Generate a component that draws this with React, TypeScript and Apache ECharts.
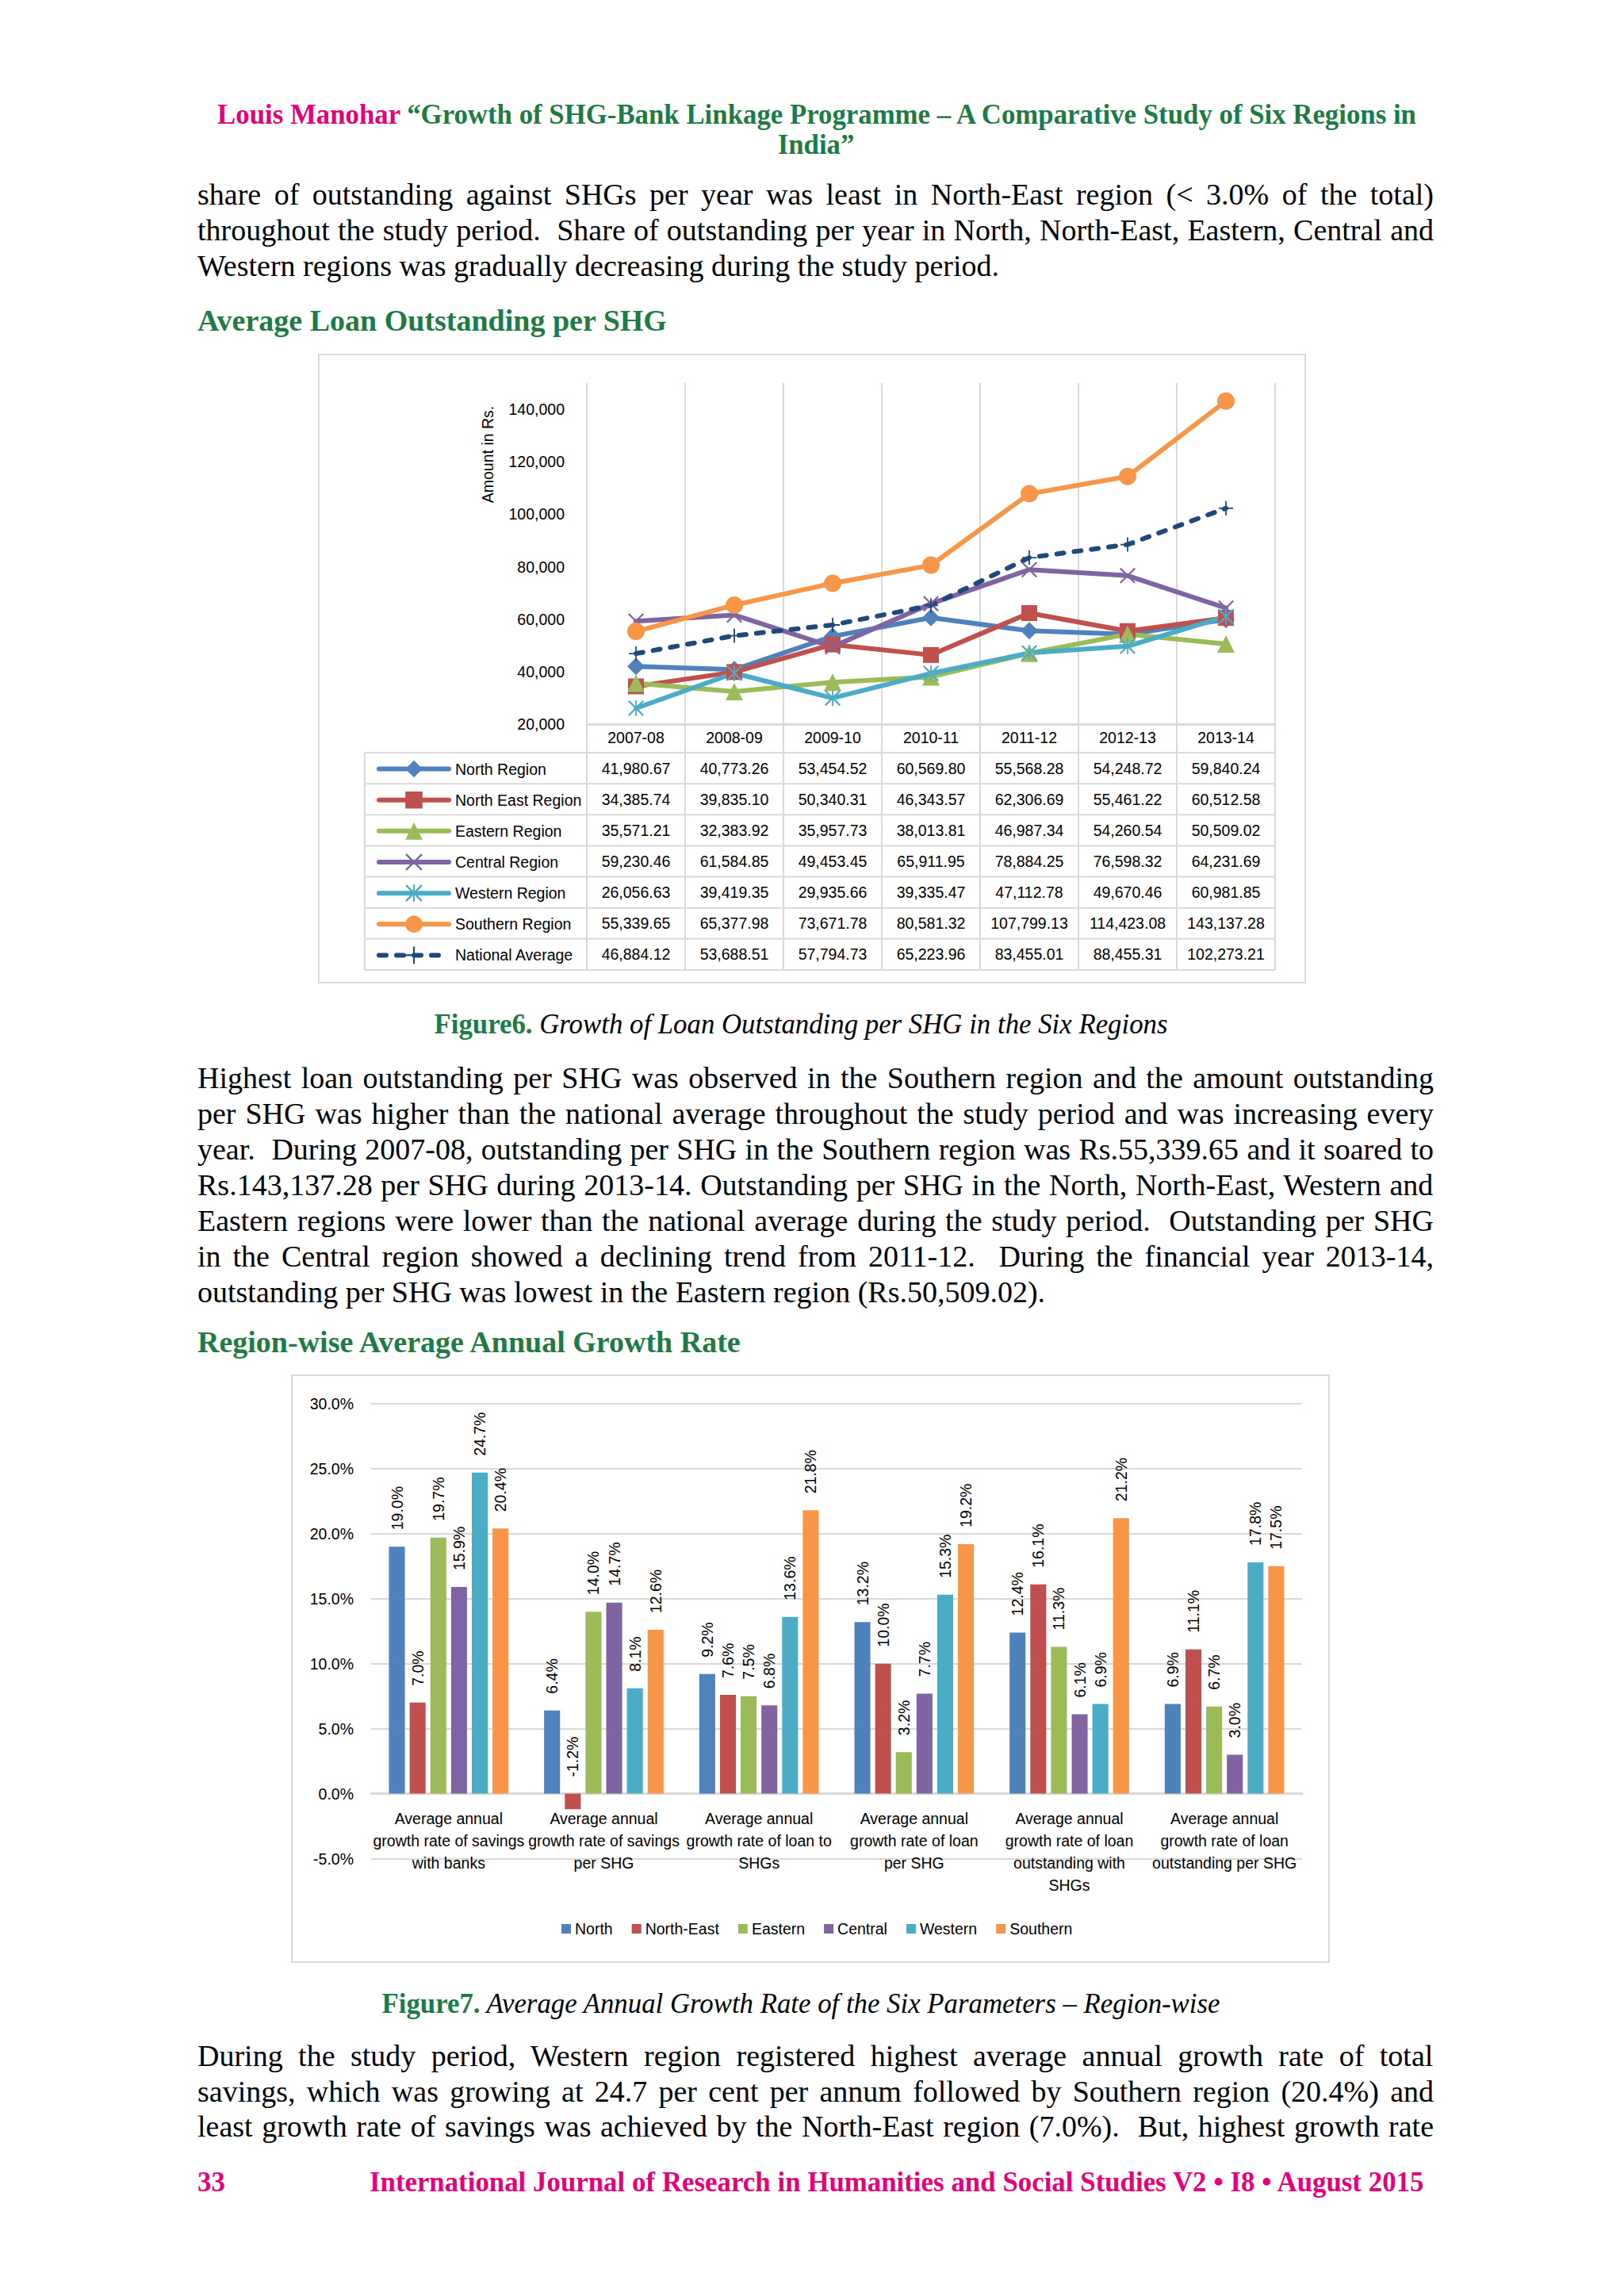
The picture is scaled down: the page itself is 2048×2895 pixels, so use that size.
import React, { useEffect, useRef } from 'react';
import * as echarts from 'echarts';

// ---------------- Data: Figure 6 ----------------
const years = ['2007-08', '2008-09', '2009-10', '2010-11', '2011-12', '2012-13', '2013-14'];
const northRegion = [41980.67, 40773.26, 53454.52, 60569.8, 55568.28, 54248.72, 59840.24];
const northEastRegion = [34385.74, 39835.1, 50340.31, 46343.57, 62306.69, 55461.22, 60512.58];
const easternRegion = [35571.21, 32383.92, 35957.73, 38013.81, 46987.34, 54260.54, 50509.02];
const centralRegion = [59230.46, 61584.85, 49453.45, 65911.95, 78884.25, 76598.32, 64231.69];
const westernRegion = [26056.63, 39419.35, 29935.66, 39335.47, 47112.78, 49670.46, 60981.85];
const southernRegion = [55339.65, 65377.98, 73671.78, 80581.32, 107799.13, 114423.08, 143137.28];
const nationalAverage = [46884.12, 53688.51, 57794.73, 65223.96, 83455.01, 88455.31, 102273.21];
const amountAxis = { min: 20000, max: 150000, interval: 20000 };

// ---------------- Data: Figure 7 ----------------
const parameters = [
  'Average annual\ngrowth rate of savings\nwith banks',
  'Average annual\ngrowth rate of savings\nper SHG',
  'Average annual\ngrowth rate of loan to\nSHGs',
  'Average annual\ngrowth rate of loan\nper SHG',
  'Average annual\ngrowth rate of loan\noutstanding with\nSHGs',
  'Average annual\ngrowth rate of loan\noutstanding per SHG',
];
const growthNorth = [19.0, 6.4, 9.2, 13.2, 12.4, 6.9];
const growthNorthEast = [7.0, -1.2, 7.6, 10.0, 16.1, 11.1];
const growthEastern = [19.7, 14.0, 7.5, 3.2, 11.3, 6.7];
const growthCentral = [15.9, 14.7, 6.8, 7.7, 6.1, 3.0];
const growthWestern = [24.7, 8.1, 13.6, 15.3, 6.9, 17.8];
const growthSouthern = [20.4, 12.6, 21.8, 19.2, 21.2, 17.5];
const growthAxis = { min: -5, max: 30, interval: 5 };

// ---------------- Styling ----------------
const C_BLUE = '#4F81BD';
const C_RED = '#C0504D';
const C_GREEN = '#9BBB59';
const C_PURPLE = '#8064A2';
const C_CYAN = '#4BACC6';
const C_ORANGE = '#F79646';
const C_NAVY = '#1F497D';
const GRID = '#D9D9D9';
const MAGENTA = '#E4007C';
const DGREEN = '#1E7B47';
const SERIF = "'Liberation Serif', 'Times New Roman', serif";
const TEXT_SHIFT = 4;

const X_PATH = 'path://M0,1.6 L1.6,0 L20,18.4 L18.4,20 Z M18.4,0 L20,1.6 L1.6,20 L0,18.4 Z';
const STAR_PATH = 'path://M0,1.6 L1.6,0 L20,18.4 L18.4,20 Z M18.4,0 L20,1.6 L1.6,20 L0,18.4 Z M9.1,0 L10.9,0 L10.9,20 L9.1,20 Z';
const PLUS_PATH = 'path://M9,0 L11,0 L11,9 L20,9 L20,11 L11,11 L11,20 L9,20 L9,11 L0,11 L0,9 L9,9 Z';

function hasFont(name: string) {
  const ctx = document.createElement('canvas').getContext('2d');
  if (!ctx) return false;
  const s = 'North East Region 0123456789';
  ctx.font = '40px monospace';
  const a = ctx.measureText(s).width;
  ctx.font = `40px '${name}', monospace`;
  const b = ctx.measureText(s).width;
  return Math.abs(a - b) > 0.5;
}

let measureCtx: CanvasRenderingContext2D | null = null;
function textWidth(t: string, font: string) {
  if (!measureCtx) measureCtx = document.createElement('canvas').getContext('2d');
  if (!measureCtx) return 0;
  measureCtx.font = font;
  return measureCtx.measureText(t).width;
}

function chartFont() {
  const narrow = hasFont('Liberation Sans Narrow');
  return narrow
    ? { family: "'Liberation Sans Narrow', 'Liberation Sans', Arial, sans-serif", size: 23 }
    : { family: "'Liberation Sans', Arial, sans-serif", size: 19.5 };
}

const fmt2 = (v: number) => v.toLocaleString('en-US', { minimumFractionDigits: 2, maximumFractionDigits: 2 });

function LineChart() {
  const ref = useRef<HTMLDivElement>(null);
  useEffect(() => {
    if (!ref.current) return;
    const { family, size } = chartFont();
    const chart = echarts.init(ref.current, undefined, { renderer: 'svg' });
    const defs = [
      { name: 'North Region', data: northRegion, color: C_BLUE, symbol: 'diamond', symbolSize: 22 },
      { name: 'North East Region', data: northEastRegion, color: C_RED, symbol: 'rect', symbolSize: 20 },
      { name: 'Eastern Region', data: easternRegion, color: C_GREEN, symbol: 'triangle', symbolSize: 22 },
      { name: 'Central Region', data: centralRegion, color: C_PURPLE, symbol: X_PATH, symbolSize: 20 },
      { name: 'Western Region', data: westernRegion, color: C_CYAN, symbol: STAR_PATH, symbolSize: 20 },
      { name: 'Southern Region', data: southernRegion, color: C_ORANGE, symbol: 'circle', symbolSize: 22 },
      { name: 'National Average', data: nationalAverage, color: C_NAVY, symbol: PLUS_PATH, symbolSize: 18, dashed: true },
    ];
    const tStyle = { fontFamily: family, fontSize: size, color: '#000' };
    const rowTop = 503;
    const rowH = 39.14;
    const legendItemH = 27;
    chart.setOption({
      animation: false,
      textStyle: { fontFamily: family },
      grid: { left: 339, top: 37, width: 868, height: 430 },
      xAxis: {
        type: 'category',
        data: years,
        boundaryGap: true,
        axisLine: { show: true, lineStyle: { color: GRID, width: 3 } },
        axisTick: { show: false },
        splitLine: { show: true, lineStyle: { color: GRID, width: 2 } },
        axisLabel: { ...tStyle, margin: 7, interval: 0 },
      },
      yAxis: {
        type: 'value',
        ...amountAxis,
        axisLine: { show: false },
        axisTick: { show: false },
        splitLine: { show: false },
        axisLabel: { ...tStyle, margin: 28, showMaxLabel: false, formatter: (v: number) => v.toLocaleString('en-US') },
      },
      legend: {
        orient: 'vertical',
        left: 69,
        top: rowTop + rowH / 2 - legendItemH / 2 - 4,
        itemWidth: 88,
        itemHeight: legendItemH,
        itemGap: rowH - legendItemH,
        selectedMode: false,
        lineStyle: { width: 6 },
        textStyle: { ...tStyle, lineHeight: legendItemH, padding: [0, 0, 0, 3] },
        data: defs.map((d) => d.name),
      },
      series: defs.map((d) => ({
        type: 'line',
        name: d.name,
        data: d.data,
        symbol: d.symbol,
        symbolSize: d.symbolSize,
        itemStyle: { color: d.color },
        lineStyle: { color: d.color, width: 6, type: d.dashed ? [9, 13] : 'solid', cap: 'round' },
        emphasis: { disabled: true },
      })),
    });

    const cx = years.map((_, i) => chart.convertToPixel({ xAxisIndex: 0 }, i) as number);
    const half = (cx[1] - cx[0]) / 2;
    const axisY = chart.convertToPixel({ yAxisIndex: 0 }, amountAxis.min) as number;
    const nRows = defs.length;
    const tableBottom = rowTop + nRows * rowH;
    const tableLeft = 59;
    const tableRight = cx[cx.length - 1] + half;
    const g: any[] = [
      { type: 'rect', shape: { x: 1, y: 1, width: 1244, height: 792 }, style: { fill: 'none', stroke: GRID, lineWidth: 2 }, silent: true },
      {
        type: 'text', x: 214, y: 127, rotation: Math.PI / 2,
        style: { text: 'Amount in Rs.', font: `${size}px ${family}`, fill: '#000', align: 'center', verticalAlign: 'middle', textAlign: 'center', textVerticalAlign: 'middle' },
      },
      { type: 'line', shape: { x1: tableLeft, y1: rowTop, x2: tableLeft, y2: tableBottom }, style: { stroke: GRID, lineWidth: 2 } },
    ];
    for (let i = 0; i <= cx.length; i++) {
      const x = cx[0] - half + i * 2 * half;
      g.push({ type: 'line', shape: { x1: x, y1: axisY, x2: x, y2: tableBottom }, style: { stroke: GRID, lineWidth: 2 } });
    }
    for (let k = 0; k <= nRows; k++) {
      const y = rowTop + k * rowH;
      g.push({ type: 'line', shape: { x1: tableLeft, y1: y, x2: tableRight, y2: y }, style: { stroke: GRID, lineWidth: 2 } });
    }
    defs.forEach((d, r) => {
      d.data.forEach((v, i) => {
        g.push({
          type: 'text', x: cx[i], y: rowTop + (r + 0.5) * rowH,
          style: { text: fmt2(v), font: `${size}px ${family}`, fill: '#000', align: 'center', verticalAlign: 'middle', textAlign: 'center', textVerticalAlign: 'middle' },
        });
      });
    });
    chart.setOption({ graphic: g });
    return () => chart.dispose();
  }, []);
  return <div ref={ref} style={{ position: 'absolute', left: 401, top: 446, width: 1246, height: 794 }} />;
}

function BarChart() {
  const ref = useRef<HTMLDivElement>(null);
  useEffect(() => {
    if (!ref.current) return;
    const { family, size } = chartFont();
    const chart = echarts.init(ref.current, undefined, { renderer: 'svg' });
    const defs = [
      { name: 'North', data: growthNorth, color: C_BLUE },
      { name: 'North-East', data: growthNorthEast, color: C_RED },
      { name: 'Eastern', data: growthEastern, color: C_GREEN },
      { name: 'Central', data: growthCentral, color: C_PURPLE },
      { name: 'Western', data: growthWestern, color: C_CYAN },
      { name: 'Southern', data: growthSouthern, color: C_ORANGE },
    ];
    const tStyle = { fontFamily: family, fontSize: size, color: '#000' };
    const gridH = 573.5;
    // shift the category axis from the bottom edge up to the zero line
    const zeroOffset = -gridH * (0 - growthAxis.min) / (growthAxis.max - growthAxis.min);
    chart.setOption({
      animation: false,
      textStyle: { fontFamily: family },
      grid: { left: 101, top: 37, width: 1174, height: gridH },
      xAxis: {
        type: 'category',
        data: parameters,
        position: 'bottom',
        offset: zeroOffset,
        axisLine: { show: true, onZero: false, lineStyle: { color: GRID, width: 3 } },
        axisTick: { show: false },
        splitLine: { show: false },
        axisLabel: { ...tStyle, margin: 17, lineHeight: 28, interval: 0 },
      },
      yAxis: {
        type: 'value',
        ...growthAxis,
        axisLine: { show: false },
        axisTick: { show: false },
        splitLine: { show: true, lineStyle: { color: GRID, width: 2 } },
        axisLabel: { ...tStyle, margin: 22, formatter: (v: number) => v.toFixed(1) + '%' },
      },
      legend: {
        left: 336,
        top: 682,
        icon: 'rect',
        itemWidth: 12,
        itemHeight: 12,
        itemGap: 24,
        selectedMode: false,
        textStyle: { ...tStyle, lineHeight: 24 },
        data: defs.map((d) => d.name),
      },
      series: defs.map((d) => ({
        type: 'bar',
        name: d.name,
        data: d.data,
        itemStyle: { color: d.color },
        barGap: '30%',
        barCategoryGap: '23%',
        emphasis: { disabled: true },
        label: {
          show: true,
          position: 'top',
          distance: 21,
          rotate: 90,
          align: 'left',
          verticalAlign: 'middle',
          ...tStyle,
          formatter: (p: any) => Number(p.value).toFixed(1) + '%',
        },
      })),
      graphic: [
        { type: 'rect', shape: { x: 1, y: 1, width: 1308, height: 740 }, style: { fill: 'none', stroke: GRID, lineWidth: 2 }, silent: true },
      ],
    });
    return () => chart.dispose();
  }, []);
  return <div ref={ref} style={{ position: 'absolute', left: 367, top: 1733, width: 1310, height: 742 }} />;
}

type LineProps = { text: string; cy: number; left?: number; width?: number; justify?: boolean; size?: number; bold?: boolean; color?: string; lh?: number };
function TextLine({ text, cy, left = 249, width = 1559, justify = true, size = 38, bold = false, color = '#000', lh = 45 }: LineProps) {
  const font = `${bold ? 'bold ' : ''}${size}px ${SERIF}`;
  let ws = 0;
  if (justify) {
    const n = (text.match(/ /g) || []).length;
    if (n > 0) ws = (width - textWidth(text, font)) / n;
  }
  return (
    <div
      style={{
        position: 'absolute', left, top: cy + TEXT_SHIFT - lh / 2 - 0.1075 * size, height: lh, lineHeight: `${lh}px`,
        fontSize: size, fontFamily: SERIF, fontWeight: bold ? 'bold' : 'normal', whiteSpace: 'pre', wordSpacing: ws, color,
      }}
    >
      {text}
    </div>
  );
}

function Centered({ cy, cx, size, lh = 40, children }: { cy: number; cx: number; size: number; lh?: number; children: React.ReactNode }) {
  return (
    <div
      style={{
        position: 'absolute', left: cx - 1000, width: 2000, textAlign: 'center', top: cy + TEXT_SHIFT - lh / 2 - 0.1075 * size, height: lh,
        lineHeight: `${lh}px`, fontSize: size, fontFamily: SERIF, whiteSpace: 'pre',
      }}
    >
      {children}
    </div>
  );
}

const para1 = [
  'share of outstanding against SHGs per year was least in North-East region (< 3.0% of the total)',
  'throughout the study period.  Share of outstanding per year in North, North-East, Eastern, Central and',
  'Western regions was gradually decreasing during the study period.',
];
const para2 = [
  'Highest loan outstanding per SHG was observed in the Southern region and the amount outstanding',
  'per SHG was higher than the national average throughout the study period and was increasing every',
  'year.  During 2007-08, outstanding per SHG in the Southern region was Rs.55,339.65 and it soared to',
  'Rs.143,137.28 per SHG during 2013-14. Outstanding per SHG in the North, North-East, Western and',
  'Eastern regions were lower than the national average during the study period.  Outstanding per SHG',
  'in the Central region showed a declining trend from 2011-12.  During the financial year 2013-14,',
  'outstanding per SHG was lowest in the Eastern region (Rs.50,509.02).',
];
const para3 = [
  'During the study period, Western region registered highest average annual growth rate of total',
  'savings, which was growing at 24.7 per cent per annum followed by Southern region (20.4%) and',
  'least growth rate of savings was achieved by the North-East region (7.0%).  But, highest growth rate',
];

export default function App() {
  return (
    <div style={{ position: 'absolute', left: 0, top: 0, width: 2048, height: 2895, background: '#fff', overflow: 'hidden' }}>
      <Centered cy={145} cx={1030} size={34.8}>
        <span style={{ fontWeight: 'bold', color: MAGENTA }}>Louis Manohar</span>
        <span style={{ fontWeight: 'bold', color: DGREEN }}> “Growth of SHG-Bank Linkage Programme – A Comparative Study of Six Regions in</span>
      </Centered>
      <Centered cy={183} cx={1029} size={34.8}>
        <span style={{ fontWeight: 'bold', color: DGREEN }}>India”</span>
      </Centered>

      {para1.map((t, i) => (
        <TextLine key={'p1' + i} text={t} cy={246 + i * 45} justify={i < para1.length - 1} />
      ))}
      <TextLine text="Average Loan Outstanding per SHG" cy={405} justify={false} bold color={DGREEN} />

      <LineChart />

      <Centered cy={1292} cx={1010} size={34.8}>
        <span style={{ fontWeight: 'bold', color: DGREEN }}>Figure6.</span>
        <span style={{ fontStyle: 'italic', color: '#000' }}> Growth of Loan Outstanding per SHG in the Six Regions</span>
      </Centered>

      {para2.map((t, i) => (
        <TextLine key={'p2' + i} text={t} cy={1360 + i * 45} justify={i < para2.length - 1} />
      ))}
      <TextLine text="Region-wise Average Annual Growth Rate" cy={1693} justify={false} bold color={DGREEN} />

      <BarChart />

      <Centered cy={2527} cx={1010} size={34.8}>
        <span style={{ fontWeight: 'bold', color: DGREEN }}>Figure7.</span>
        <span style={{ fontStyle: 'italic', color: '#000' }}> Average Annual Growth Rate of the Six Parameters – Region-wise</span>
      </Centered>

      {para3.map((t, i) => (
        <TextLine key={'p3' + i} text={t} cy={2593 + i * 44.5} justify />
      ))}

      <TextLine text="33" cy={2752} justify={false} bold size={34.8} color={MAGENTA} lh={40} />
      <TextLine
        text="International Journal of Research in Humanities and Social Studies V2 • I8 • August 2015"
        cy={2752} left={466} width={1332} justify bold size={34.8} color={MAGENTA} lh={40}
      />
    </div>
  );
}
